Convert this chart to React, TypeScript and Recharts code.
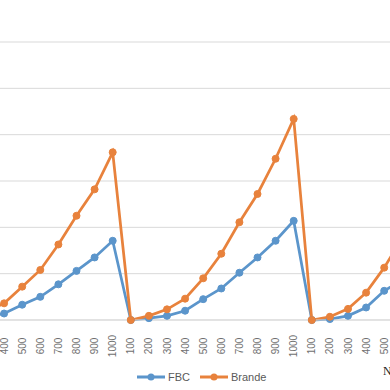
import React from "react";
import { LineChart, Line, XAxis, YAxis, CartesianGrid } from "recharts";

// Load size per step, three sweeps of 100..1000 (view starts mid-sweep)
const sizeLabels = [
  "300", "400", "500", "600", "700", "800", "900", "1000",
  "100", "200", "300", "400", "500", "600", "700", "800", "900", "1000",
  "100", "200", "300", "400", "500", "600",
];
const fbcValues = [
  0.6, 1.4, 3.3, 5.0, 7.7, 10.6, 13.5, 17.1,
  0, 0.4, 0.9, 2.0, 4.5, 6.8, 10.2, 13.5, 17.1, 21.4,
  0, 0.2, 0.9, 2.7, 6.3, 8.6,
];
const brandeValues = [
  1.8, 3.6, 7.2, 10.8, 16.3, 22.5, 28.2, 36.2,
  0, 0.9, 2.3, 4.6, 9.0, 14.3, 21.1, 27.2, 34.8, 43.4,
  0, 0.7, 2.4, 5.9, 11.3, 17.7,
];
const yTicks = [0, 10, 20, 30, 40, 50, 60];

const seriesNames = ["FBC", "Brande"];
const seriesColors = ["#5b95cb", "#e8823c"];

const data = sizeLabels.map((label, i) => ({
  label,
  fbc: fbcValues[i],
  brande: brandeValues[i],
}));

const FONT = '"Liberation Sans", Arial, sans-serif';

const RotatedTick = (props: any) => {
  const { x, payload } = props;
  const cy = 346;
  return (
    <text
      x={x}
      y={cy}
      transform={`rotate(-90, ${x}, ${cy})`}
      textAnchor="middle"
      dy="0.35em"
      fontSize={10}
      fontFamily={FONT}
      fill="#6f6f6f"
    >
      {payload.value}
    </text>
  );
};

const LegendItem = ({ name, color }: { name: string; color: string }) => (
  <span style={{ display: "inline-flex", alignItems: "center", marginRight: 10 }}>
    <svg width={28} height={10} style={{ marginRight: 3 }}>
      <line x1={0} y1={5} x2={28} y2={5} stroke={color} strokeWidth={3} />
      <circle cx={14} cy={5} r={3.5} fill={color} />
    </svg>
    <span style={{ fontFamily: FONT, fontSize: 11, color: "#595959" }}>{name}</span>
  </span>
);

export default function App() {
  return (
    <div
      style={{
        position: "absolute",
        left: 0,
        top: 0,
        width: 390,
        height: 390,
        overflow: "hidden",
        background: "#ffffff",
      }}
    >
      <div style={{ position: "absolute", left: -30, top: 0 }}>
        <LineChart
          width={460}
          height={390}
          data={data}
          margin={{ top: 42, right: 27.7, left: 16, bottom: 0 }}
        >
          <CartesianGrid vertical={false} stroke="#d9d9d9" strokeWidth={1} />
          <XAxis
            dataKey="label"
            interval={0}
            height={70}
            tickLine={false}
            axisLine={{ stroke: "#d9d9d9" }}
            tick={<RotatedTick />}
          />
          <YAxis hide domain={[0, 60]} ticks={yTicks} />
          <Line
            type="linear"
            dataKey="fbc"
            name={seriesNames[0]}
            stroke={seriesColors[0]}
            strokeWidth={2.75}
            dot={{ r: 3.5, fill: seriesColors[0], stroke: seriesColors[0], strokeWidth: 1 }}
            isAnimationActive={false}
          />
          <Line
            type="linear"
            dataKey="brande"
            name={seriesNames[1]}
            stroke={seriesColors[1]}
            strokeWidth={2.75}
            dot={{ r: 3.5, fill: seriesColors[1], stroke: seriesColors[1], strokeWidth: 1 }}
            isAnimationActive={false}
          />
        </LineChart>
      </div>
      <div
        style={{
          position: "absolute",
          left: 137,
          top: 371,
          display: "flex",
          alignItems: "center",
          whiteSpace: "nowrap",
        }}
      >
        {seriesNames.map((n, i) => (
          <LegendItem key={n} name={n} color={seriesColors[i]} />
        ))}
      </div>
      <div
        style={{
          position: "absolute",
          left: 383,
          top: 364,
          fontFamily: '"Liberation Serif", serif',
          fontSize: 12,
          color: "#222",
          whiteSpace: "nowrap",
        }}
      >
        N
      </div>
    </div>
  );
}
